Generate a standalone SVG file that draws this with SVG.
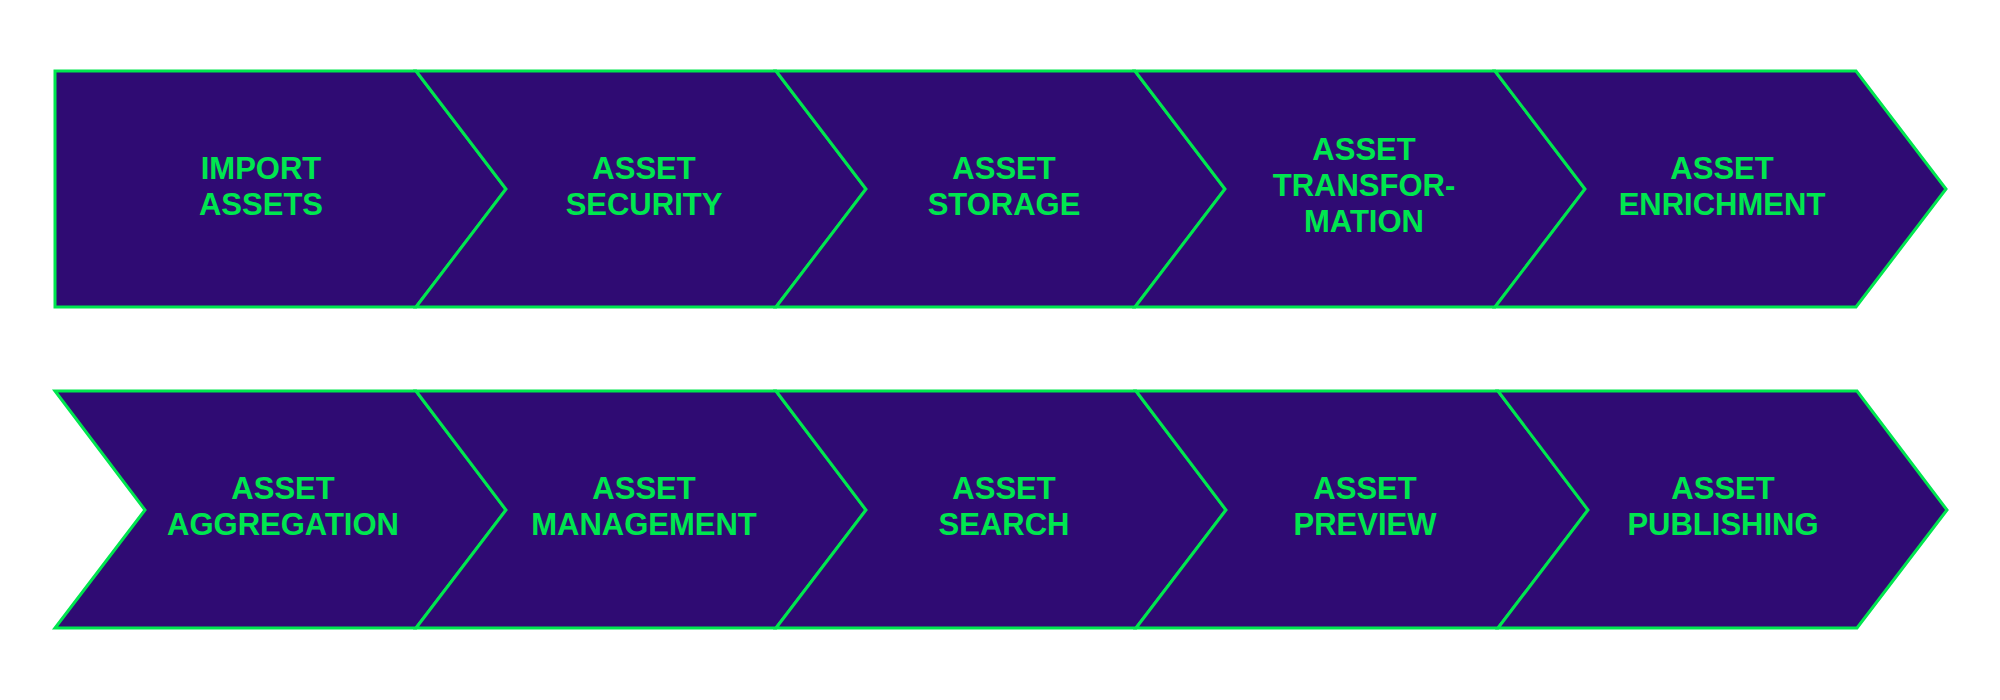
<svg xmlns="http://www.w3.org/2000/svg" width="2000" height="700" viewBox="0 0 2000 700">
<style>
.s{fill:#2f0b73;stroke:#00e64f;stroke-width:3;stroke-linejoin:miter}
text{font-family:"Liberation Sans",Arial,sans-serif;font-weight:700;font-size:31px;fill:#00e64f;text-anchor:middle}
</style>
<rect width="2000" height="700" fill="#fff"/>
<g id="n1"><polygon class="s" points="55,71 416,71 506,189 416,307 55,307"/><text x="261" y="179">IMPORT</text><text x="261" y="215">ASSETS</text></g>
<g id="n2"><polygon class="s" points="416,71 776,71 866,189 776,307 416,307 506,189"/><text x="644" y="179">ASSET</text><text x="644" y="215">SECURITY</text></g>
<g id="n3"><polygon class="s" points="776,71 1135,71 1225,189 1135,307 776,307 866,189"/><text x="1004" y="179">ASSET</text><text x="1004" y="215">STORAGE</text></g>
<g id="n4"><polygon class="s" points="1135,71 1495,71 1585,189 1495,307 1135,307 1225,189"/><text x="1364" y="160">ASSET</text><text x="1364" y="196">TRANSFOR-</text><text x="1364" y="232">MATION</text></g>
<g id="n5"><polygon class="s" points="1495,71 1856,71 1946,189 1856,307 1495,307 1585,189"/><text x="1722" y="179">ASSET</text><text x="1722" y="215">ENRICHMENT</text></g>
<g id="n6"><polygon class="s" points="55,391 416,391 506,510 416,628 55,628 145,510"/><text x="283" y="499">ASSET</text><text x="283" y="535">AGGREGATION</text></g>
<g id="n7"><polygon class="s" points="416,391 776,391 866,510 776,628 416,628 506,510"/><text x="644" y="499">ASSET</text><text x="644" y="535">MANAGEMENT</text></g>
<g id="n8"><polygon class="s" points="776,391 1136,391 1226,510 1136,628 776,628 866,510"/><text x="1004" y="499">ASSET</text><text x="1004" y="535">SEARCH</text></g>
<g id="n9"><polygon class="s" points="1136,391 1498,391 1588,510 1498,628 1136,628 1226,510"/><text x="1365" y="499">ASSET</text><text x="1365" y="535">PREVIEW</text></g>
<g id="n10"><polygon class="s" points="1498,391 1857,391 1947,510 1857,628 1498,628 1588,510"/><text x="1723" y="499">ASSET</text><text x="1723" y="535">PUBLISHING</text></g>
<g id="connectors"></g>
</svg>
